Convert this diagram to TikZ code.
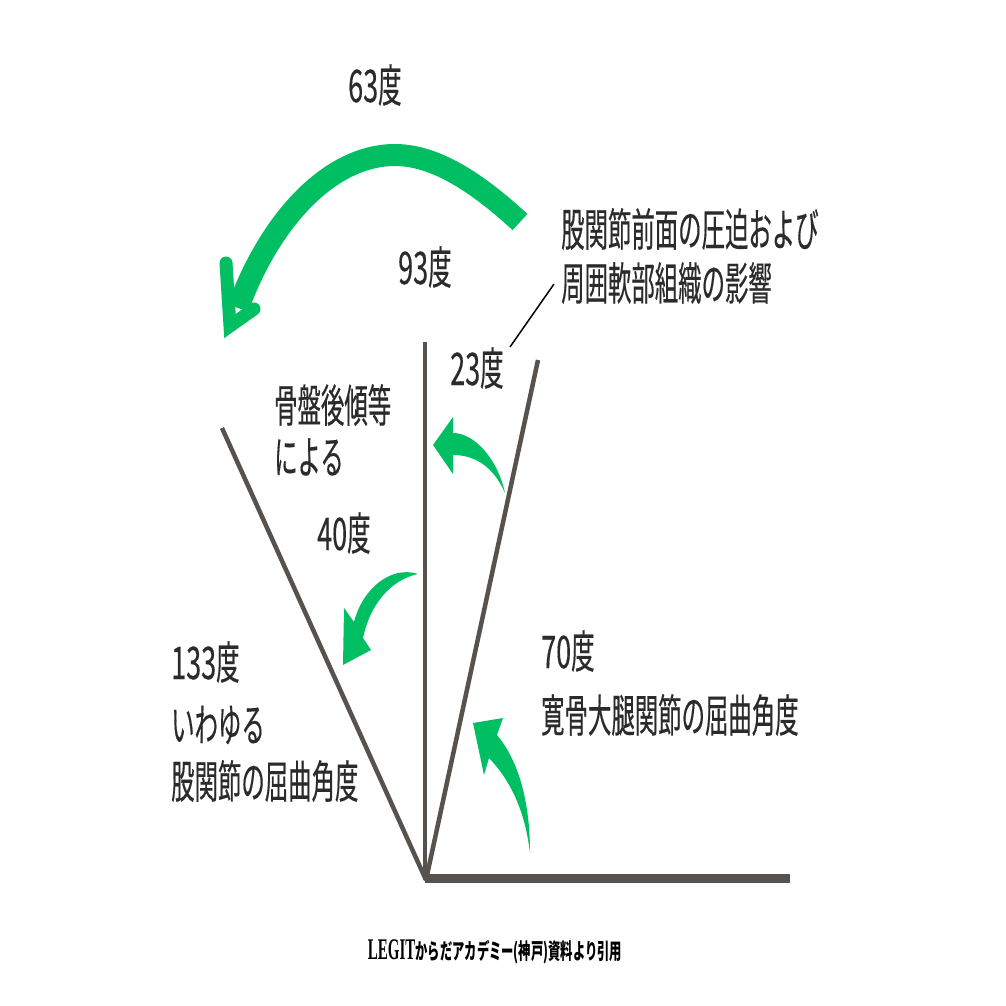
\documentclass[tikz,border=0pt]{standalone}
\usepackage{fontspec}
\newfontfamily\jpfont[FakeStretch=0.52,FakeBold=0.3]{Noto Sans CJK JP}
\newfontfamily\jpnum[FakeStretch=0.6,FakeBold=0.3]{Noto Sans CJK JP}
\newfontfamily\srcfont[FakeStretch=0.56]{Noto Sans CJK JP}
\newfontfamily\srclatin[FakeStretch=0.5]{Liberation Serif}
\newcommand{\deglbl}[1]{{\jpnum #1}度}
\definecolor{arrowgreen}{HTML}{00BF63}
\definecolor{bonegray}{HTML}{57524D}
\definecolor{txtgray}{HTML}{2B2B2B}

\begin{document}
\begin{tikzpicture}[x=1pt, y=-1pt,
	bone/.style={bonegray, line width=4.5pt},
	lbl/.style={font=\jpfont\fontsize{45}{54}\selectfont, text=txtgray, inner sep=0pt, anchor=west},
	greenarrow/.style={fill=arrowgreen}]
	\useasboundingbox[fill=white] (0,0) rectangle (1006,1006);
	% joint and segment ends
	\coordinate (O) at (426,880);
	\coordinate (vert) at (425,342);
	\coordinate (femurend) at (538,360);
	\coordinate (pelvisend) at (222,428);
	\coordinate (groundend) at (790,878);
	\draw[bone, line width=9pt] (425,878) -- (groundend);
	\draw[bone] (425,880) -- (vert);
	\draw[bone] (O) -- (femurend);
	\draw[bone] (O) -- (pelvisend);
	% labels
	\node[lbl] (deg63) at (348,85) {\deglbl{63}};
	\node[lbl] (deg93) at (398,267) {\deglbl{93}};
	\node[lbl] (deg23) at (450,368) {\deglbl{23}};
	\node[lbl] (anterior1) at (561,229) {股関節前面の圧迫および};
	\node[lbl] (anterior2) at (561,283) {周囲軟部組織の影響};
	\node[lbl] (pelvis1) at (274,405) {骨盤後傾等};
	\node[lbl] (pelvis2) at (274,457) {による};
	\node[lbl] (deg40) at (317,533) {\deglbl{40}};
	\node[lbl] (deg133) at (171,662) {\deglbl{133}};
	\node[lbl] (hip1) at (171,725) {いわゆる};
	\node[lbl] (hip2) at (171,781) {股関節の屈曲角度};
	\node[lbl] (deg70) at (541,651) {\deglbl{70}};
	\node[lbl] (femur) at (541,715) {寛骨大腿関節の屈曲角度};
	\node[font=\srcfont\bfseries\fontsize{22}{26}\selectfont, text=black, inner sep=0pt] (source) at (495,952)
		{{\srclatin\bfseries\fontsize{30}{30}\selectfont LEGIT}からだアカデミー(神戸)資料より引用};
	% leader line
	\coordinate (leadA) at (510,347);
	\coordinate (leadB) at (554,284);
	\draw[line width=1.5pt, black] (leadA) -- (leadB);
	% big arrow 63
	\draw[arrowgreen, line width=22pt] (520,222) .. controls (485,190) and (440,155) .. (395,155)
		.. controls (330,155) and (270,220) .. (238,308);
	\draw[arrowgreen, line width=13pt, line cap=round, line join=miter] (226,263) -- (230,326) -- (254,309);
	% small arrow 23
	\fill[greenarrow] (433,445) -- (453,417) -- (453,433) .. controls (475,433) and (498,460) .. (505,493)
		.. controls (495,470) and (478,455) .. (453,455) -- (453,474) -- cycle;
	% small arrow 40
	\fill[greenarrow] (418,574) .. controls (390,565) and (362,590) .. (354,622) -- (344,608) -- (343,665)
		-- (371,650) -- (363,638) .. controls (370,605) and (390,580) .. cycle;
	% small arrow 70
	\fill[greenarrow] (473,723) -- (503,718) -- (497,735) .. controls (518,760) and (530,800) .. (530,853)
		.. controls (525,810) and (510,780) .. (489,758) -- (484,775) -- cycle;
\end{tikzpicture}
\end{document}
